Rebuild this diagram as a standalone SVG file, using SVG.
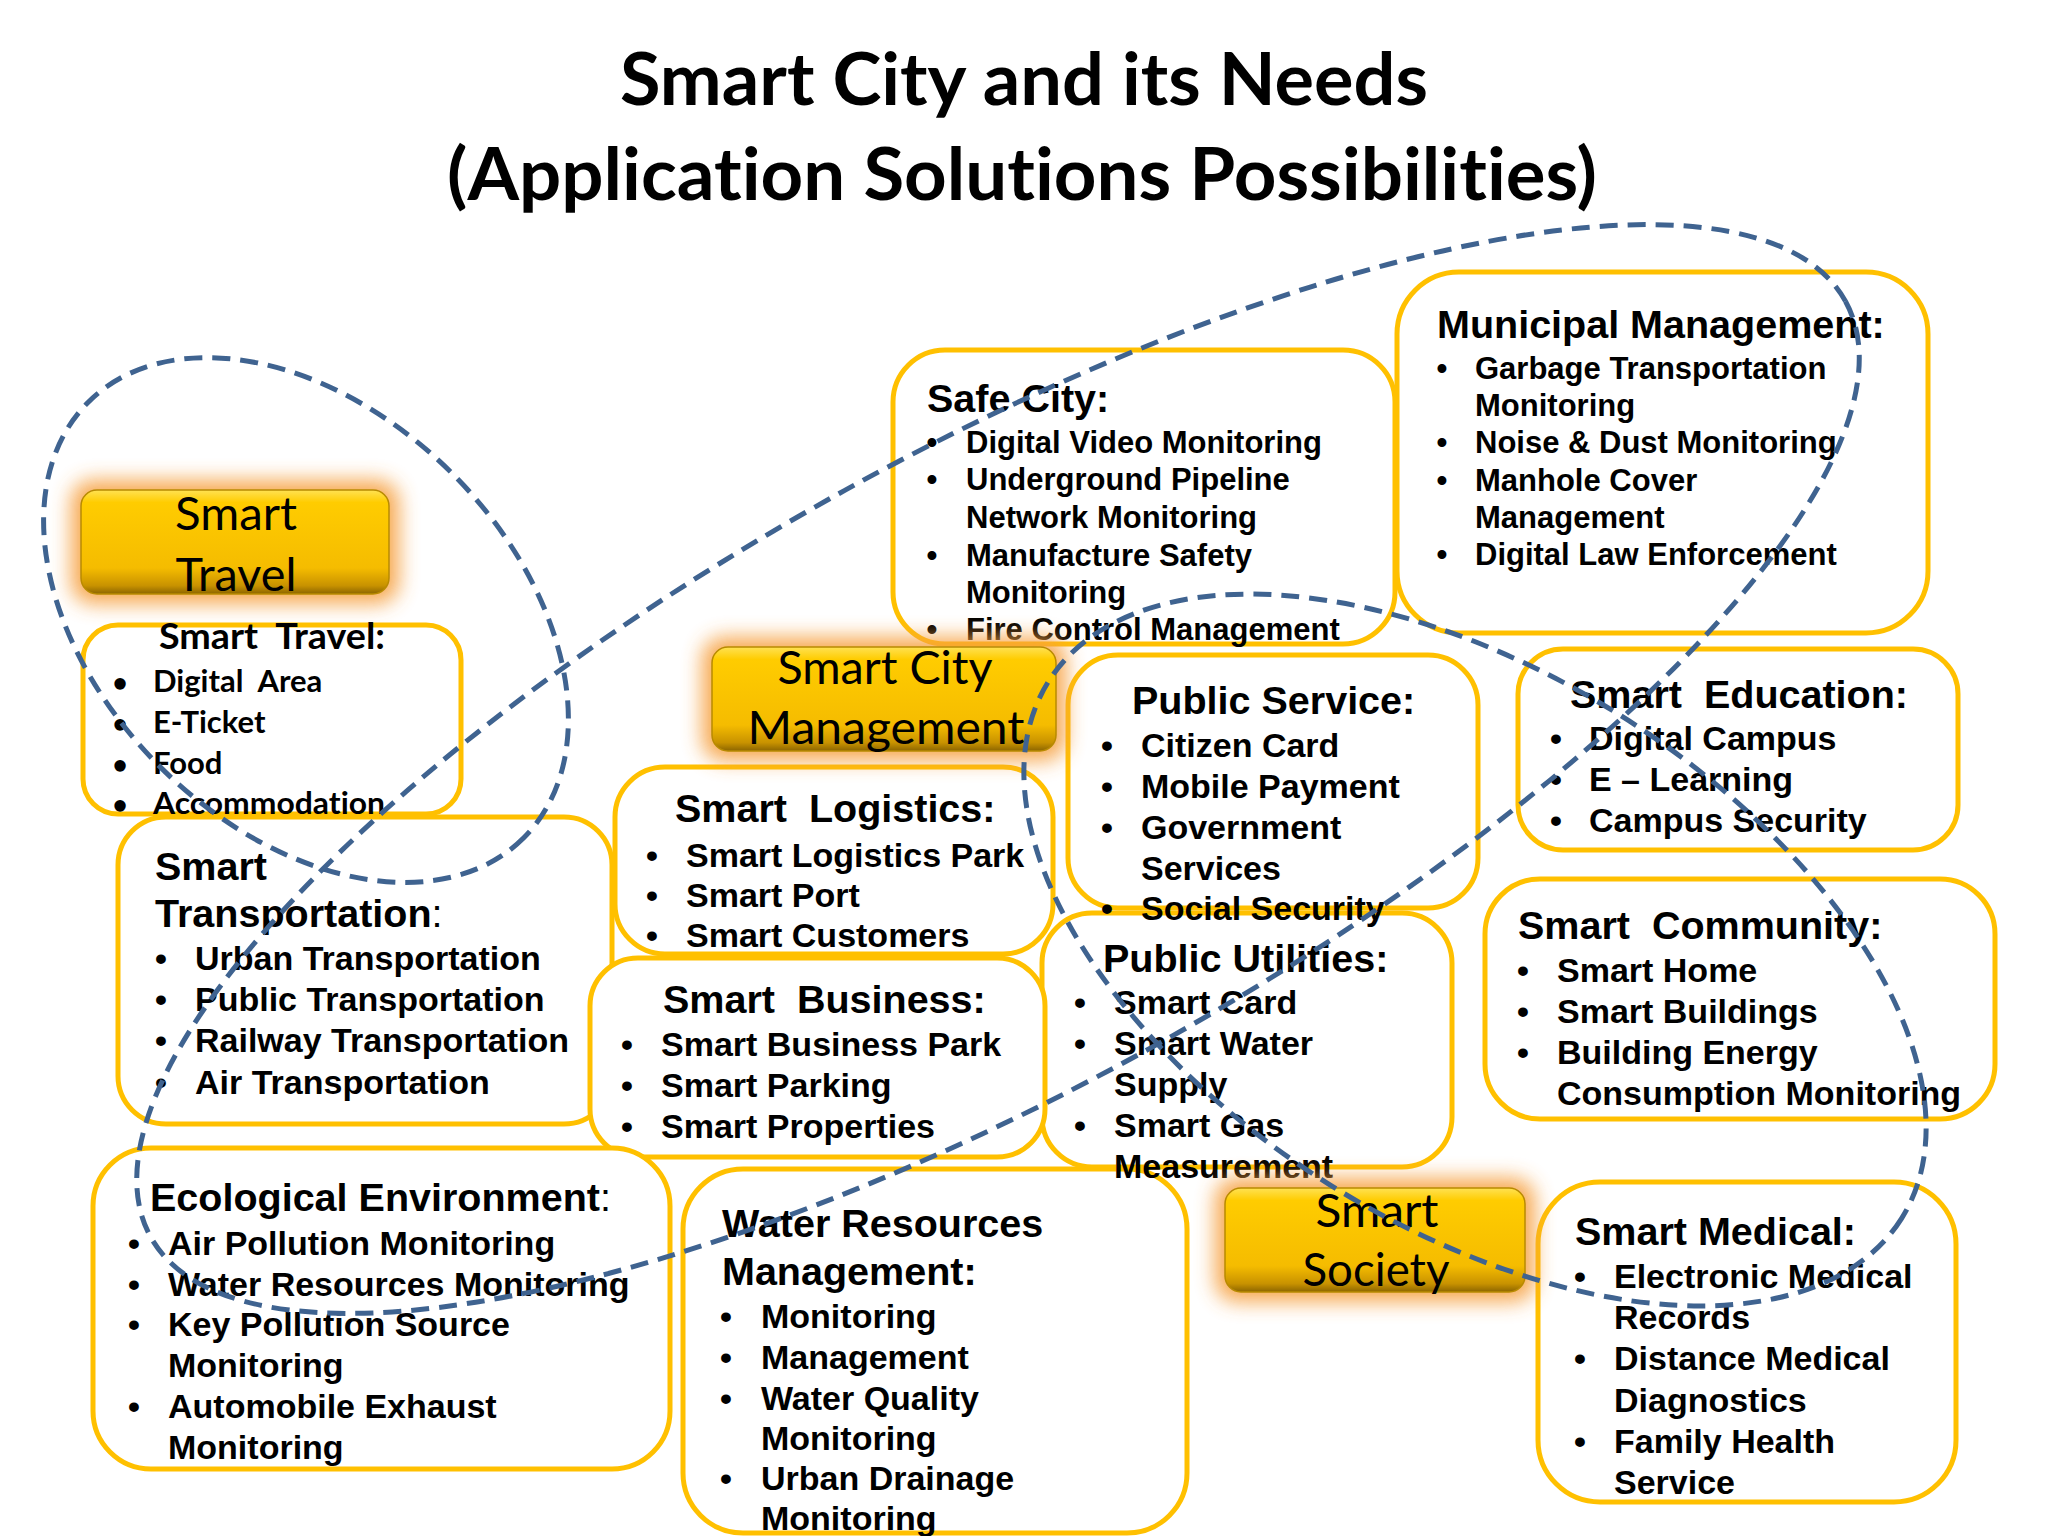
<svg xmlns="http://www.w3.org/2000/svg" width="2048" height="1536" viewBox="0 0 2048 1536">
<defs>
<style>
.box{fill:#fff;stroke:#FFC000;stroke-width:5}
.t{font-family:"Liberation Sans",Arial,sans-serif;font-weight:bold;font-size:39.5px;fill:#000}
.b{font-family:"Liberation Sans",Arial,sans-serif;font-weight:bold;font-size:34px;fill:#000}
.s{font-size:31px}
.d{text-anchor:middle}
.cal{font-family:Lato,"Open Sans",sans-serif;font-weight:bold;fill:#000;font-variant-ligatures:none}
.btxt{font-family:Lato,"Open Sans",sans-serif;font-size:46px;fill:#000;text-anchor:middle;font-variant-ligatures:none}
.glow{fill:#F6A040;opacity:0.9;filter:url(#blur)}
.btn{fill:url(#gold);stroke:#B88A00;stroke-width:1.5}
.ring{fill:none;stroke:#3F6390;stroke-width:5;stroke-dasharray:18 10}
.title{font-family:Lato,"Open Sans",sans-serif;font-weight:bold;font-size:72px;fill:#000;text-anchor:middle;font-variant-ligatures:none}
</style>
<linearGradient id="gold" x1="0" y1="0" x2="0" y2="1">
<stop offset="0" stop-color="#FFE253"/>
<stop offset="0.12" stop-color="#FFCC00"/>
<stop offset="0.75" stop-color="#F5BC00"/>
<stop offset="0.92" stop-color="#C89200"/>
<stop offset="1" stop-color="#8C6500"/>
</linearGradient>
<filter id="blur" x="-30%" y="-60%" width="160%" height="220%"><feGaussianBlur stdDeviation="10"/></filter>
</defs>
<rect width="2048" height="1536" fill="#fff"/>

<g id="title">
<text class="title" x="1024" y="105" textLength="808" lengthAdjust="spacingAndGlyphs">Smart City and its Needs</text>
<text class="title" x="1022" y="200" textLength="1150" lengthAdjust="spacingAndGlyphs">(Application Solutions Possibilities)</text>
</g>

<g id="smart-transportation">
<rect class="box" x="118" y="817" width="494" height="307" rx="48"/>
<text class="t" x="155" y="880">Smart</text>
<text class="t" x="155" y="927">Transportation<tspan font-weight="normal">:</tspan></text>
<g class="b d"><text x="161" y="970">•</text><text x="161" y="1011">•</text><text x="161" y="1052">•</text><text x="161" y="1094">•</text></g>
<g class="b"><text x="195" y="970">Urban Transportation</text><text x="195" y="1011">Public Transportation</text><text x="195" y="1052">Railway Transportation</text><text x="195" y="1094">Air Transportation</text></g>
</g>

<g id="smart-travel-box">
<rect class="box" x="83" y="625" width="378" height="189" rx="35"/>
<text class="cal" x="159" y="649" font-size="36" textLength="226" lengthAdjust="spacingAndGlyphs">Smart&#160; Travel:</text>
<g class="cal" font-size="31"><text x="120" y="692" text-anchor="middle" font-size="26">•</text><text x="120" y="733" text-anchor="middle" font-size="26">•</text><text x="120" y="774" text-anchor="middle" font-size="26">•</text><text x="120" y="814" text-anchor="middle" font-size="26">•</text>
<text x="153" y="692">Digital&#160; Area</text><text x="153" y="733">E-Ticket</text><text x="153" y="774">Food</text><text x="153" y="814" textLength="232" lengthAdjust="spacingAndGlyphs">Accommodation</text></g>
</g>

<g id="water-resources">
<rect class="box" x="683" y="1169" width="504" height="364" rx="60"/>
<text class="t" x="722" y="1237">Water Resources</text>
<text class="t" x="722" y="1285">Management:</text>
<g class="b d"><text x="726" y="1328">•</text><text x="726" y="1369">•</text><text x="726" y="1410">•</text><text x="726" y="1490">•</text></g>
<g class="b"><text x="761" y="1328">Monitoring</text><text x="761" y="1369">Management</text><text x="761" y="1410">Water Quality</text><text x="761" y="1450">Monitoring</text><text x="761" y="1490">Urban Drainage</text><text x="761" y="1530">Monitoring</text></g>
</g>

<g id="public-utilities">
<rect class="box" x="1042" y="913" width="410" height="254" rx="50"/>
<text class="t" x="1103" y="972">Public Utilities:</text>
<g class="b d"><text x="1080" y="1014">•</text><text x="1080" y="1055">•</text><text x="1080" y="1137">•</text></g>
<g class="b"><text x="1114" y="1014">Smart Card</text><text x="1114" y="1055">Smart Water</text><text x="1114" y="1096">Supply</text><text x="1114" y="1137">Smart Gas</text><text x="1114" y="1178">Measurement</text></g>
</g>

<g id="public-service">
<rect class="box" x="1068" y="655" width="410" height="253" rx="50"/>
<text class="t" x="1132" y="714">Public Service:</text>
<g class="b d"><text x="1107" y="757">•</text><text x="1107" y="798">•</text><text x="1107" y="839">•</text><text x="1107" y="920">•</text></g>
<g class="b"><text x="1141" y="757">Citizen Card</text><text x="1141" y="798">Mobile Payment</text><text x="1141" y="839">Government</text><text x="1141" y="880">Services</text><text x="1141" y="920">Social Security</text></g>
</g>

<g id="safe-city">
<rect class="box" x="893" y="350" width="502" height="294" rx="52"/>
<text class="t" x="927" y="412">Safe City:</text>
<g class="b s d"><text x="932" y="453">•</text><text x="932" y="490">•</text><text x="932" y="566">•</text><text x="932" y="640">•</text></g>
<g class="b s"><text x="966" y="453">Digital Video Monitoring</text><text x="966" y="490">Underground Pipeline</text><text x="966" y="528">Network Monitoring</text><text x="966" y="566">Manufacture Safety</text><text x="966" y="603">Monitoring</text><text x="966" y="640">Fire Control Management</text></g>
</g>

<g id="municipal-management">
<rect class="box" x="1397" y="272" width="531" height="361" rx="62"/>
<text class="t" x="1437" y="338">Municipal Management:</text>
<g class="b s d"><text x="1442" y="379">•</text><text x="1442" y="453">•</text><text x="1442" y="491">•</text><text x="1442" y="565">•</text></g>
<g class="b s"><text x="1475" y="379">Garbage Transportation</text><text x="1475" y="416">Monitoring</text><text x="1475" y="453">Noise &amp; Dust Monitoring</text><text x="1475" y="491">Manhole Cover</text><text x="1475" y="528">Management</text><text x="1475" y="565">Digital Law Enforcement</text></g>
</g>

<g id="smart-logistics">
<rect class="box" x="615" y="767" width="438" height="187" rx="50"/>
<text class="t" x="675" y="822">Smart&#160; Logistics:</text>
<g class="b d"><text x="652" y="867">•</text><text x="652" y="907">•</text><text x="652" y="947">•</text></g>
<g class="b"><text x="686" y="867">Smart Logistics Park</text><text x="686" y="907">Smart Port</text><text x="686" y="947">Smart Customers</text></g>
</g>

<g id="smart-business">
<rect class="box" x="590" y="958" width="455" height="199" rx="48"/>
<text class="t" x="663" y="1013">Smart&#160; Business:</text>
<g class="b d"><text x="627" y="1056">•</text><text x="627" y="1097">•</text><text x="627" y="1138">•</text></g>
<g class="b"><text x="661" y="1056">Smart Business Park</text><text x="661" y="1097">Smart Parking</text><text x="661" y="1138">Smart Properties</text></g>
</g>

<g id="smart-education">
<rect class="box" x="1518" y="649" width="440" height="201" rx="45"/>
<text class="t" x="1570" y="708">Smart&#160; Education:</text>
<g class="b d"><text x="1556" y="750">•</text><text x="1556" y="791">•</text><text x="1556" y="832">•</text></g>
<g class="b"><text x="1589" y="750">Digital Campus</text><text x="1589" y="791">E – Learning</text><text x="1589" y="832">Campus Security</text></g>
</g>

<g id="smart-community">
<rect class="box" x="1485" y="879" width="510" height="240" rx="55"/>
<text class="t" x="1518" y="939">Smart&#160; Community:</text>
<g class="b d"><text x="1523" y="982">•</text><text x="1523" y="1023">•</text><text x="1523" y="1064">•</text></g>
<g class="b"><text x="1557" y="982">Smart Home</text><text x="1557" y="1023">Smart Buildings</text><text x="1557" y="1064">Building Energy</text><text x="1557" y="1105">Consumption Monitoring</text></g>
</g>

<g id="ecological-environment">
<rect class="box" x="93" y="1148" width="577" height="321" rx="58"/>
<text class="t" x="150" y="1211">Ecological Environment<tspan font-weight="normal">:</tspan></text>
<g class="b d"><text x="134" y="1255">•</text><text x="134" y="1296">•</text><text x="134" y="1336">•</text><text x="134" y="1418">•</text></g>
<g class="b"><text x="168" y="1255">Air Pollution Monitoring</text><text x="168" y="1296">Water Resources Monitoring</text><text x="168" y="1336">Key Pollution Source</text><text x="168" y="1377">Monitoring</text><text x="168" y="1418">Automobile Exhaust</text><text x="168" y="1459">Monitoring</text></g>
</g>

<g id="smart-medical">
<rect class="box" x="1538" y="1182" width="418" height="320" rx="62"/>
<text class="t" x="1575" y="1245">Smart Medical:</text>
<g class="b d"><text x="1580" y="1288">•</text><text x="1580" y="1370">•</text><text x="1580" y="1453">•</text></g>
<g class="b"><text x="1614" y="1288">Electronic Medical</text><text x="1614" y="1329">Records</text><text x="1614" y="1370">Distance Medical</text><text x="1614" y="1412">Diagnostics</text><text x="1614" y="1453">Family Health</text><text x="1614" y="1494">Service</text></g>
</g>

<g id="btn-smart-travel">
<rect class="glow" x="71" y="480" width="328" height="124" rx="22"/>
<rect class="btn" x="81" y="490" width="308" height="104" rx="16"/>
<text class="btxt" x="236" y="530" textLength="122" lengthAdjust="spacingAndGlyphs">Smart</text>
<text class="btxt" x="236" y="591" textLength="121" lengthAdjust="spacingAndGlyphs">Travel</text>
</g>

<g id="btn-smart-city-management">
<rect class="glow" x="702" y="637" width="364" height="124" rx="22"/>
<rect class="btn" x="712" y="647" width="344" height="104" rx="16"/>
<text class="btxt" x="885" y="684" textLength="215" lengthAdjust="spacingAndGlyphs">Smart City</text>
<text class="btxt" x="886" y="744" textLength="277" lengthAdjust="spacingAndGlyphs">Management</text>
</g>

<g id="btn-smart-society">
<rect class="glow" x="1215" y="1178" width="320" height="124" rx="22"/>
<rect class="btn" x="1225" y="1188" width="300" height="104" rx="16"/>
<text class="btxt" x="1377" y="1227" textLength="123" lengthAdjust="spacingAndGlyphs">Smart</text>
<text class="btxt" x="1376" y="1286" textLength="147" lengthAdjust="spacingAndGlyphs">Society</text>
</g>

<g id="groupings">
<ellipse class="ring" cx="306" cy="620" rx="308" ry="207" transform="rotate(45 306 620)"/>
<ellipse class="ring" cx="998" cy="769" rx="968" ry="318" transform="rotate(-28.9 998 769)"/>
<ellipse class="ring" cx="1475" cy="950" rx="504" ry="276" transform="rotate(32.2 1475 950)"/>
</g>
</svg>
